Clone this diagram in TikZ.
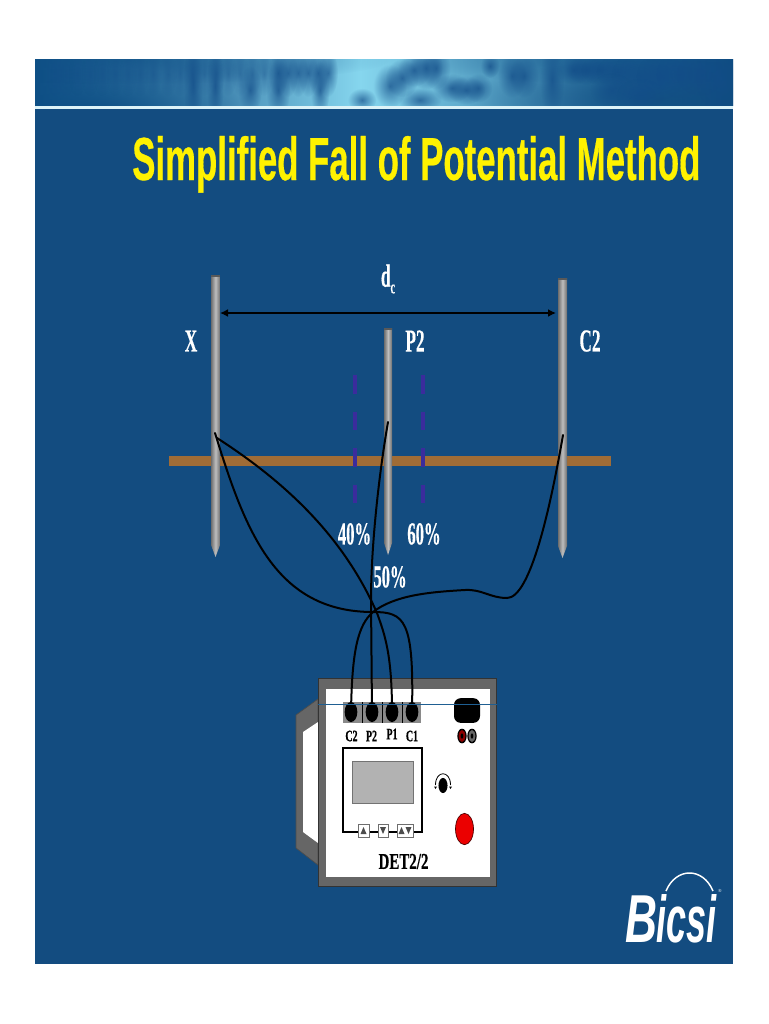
\documentclass[tikz,border=0pt]{standalone}
\usepackage{graphicx}
\usepackage{fontspec}
\setmainfont[BoldFeatures={FakeBold=0.5}]{Liberation Serif}
\newfontfamily\arialf[BoldFeatures={FakeBold=0.5}]{Liberation Sans}
\newfontfamily\logof{Liberation Sans Bold Italic}
\usetikzlibrary{shapes.geometric,arrows.meta,fadings}
\tikzfading[name=softblob,inner color=transparent!0,outer color=transparent!100]
\definecolor{panel}{HTML}{134C80}
\definecolor{bandA}{HTML}{0E4F85}
\definecolor{bandB}{HTML}{4A90B8}
\definecolor{bandH}{HTML}{86D6EE}
\definecolor{bandC}{HTML}{5AA5C8}
\definecolor{bandE}{HTML}{2A6F9E}
\definecolor{bandF}{HTML}{0F4C80}
\definecolor{markc}{HTML}{124C88}
\definecolor{ruleC}{HTML}{DDF3F8}
\definecolor{brownbar}{HTML}{A06C36}
\definecolor{dashc}{HTML}{3B2C9C}
\definecolor{stakeD}{HTML}{6E6E6E}
\definecolor{stakeL}{HTML}{BEBEBE}
\definecolor{devgray}{HTML}{666666}
\definecolor{stripc}{HTML}{8A8A8A}
\definecolor{lcdc}{HTML}{B2B2B2}
\definecolor{thinblue}{HTML}{1F5F92}
\tikzset{
 lbl/.style={inner sep=0pt,text=white,font=\bfseries\fontsize{24}{24}\selectfont},
 devlbl/.style={inner sep=0pt,text=black,font=\bfseries\fontsize{12}{12}\selectfont},
 wire/.style={draw=black,line width=1.5pt,line cap=round},
 term/.style={ellipse,fill=black,inner sep=0pt,minimum width=9.5pt,minimum height=15pt},
 pctdash/.style={draw=dashc,line width=2.3pt,dash pattern=on 14pt off 13.5pt},
 btn/.style={fill=white,draw=stakeD,line width=0.7pt},
 tri/.style={fill=black!70,draw=none},
 markA/.style={fill=markc,opacity=.42,path fading=softblob},
 markB/.style={fill=markc,opacity=.7,path fading=softblob},
}
\newcommand{\squeezed}[2]{\scalebox{#1}[1]{#2}}
\newcommand{\stake}[4]{% left, right, top, tip
  \path[left color=stakeD,right color=stakeD,middle color=stakeL]
    (#1,#3) -- (#2,#3) -- (#2,#4-12) -- ({(#1+#2)/2},#4) -- (#1,#4-12) -- cycle;
  \fill[black!65] (#1,#3) rectangle (#2,#3+2);
}
\begin{document}
\begin{tikzpicture}[x=0.75pt,y=-0.75pt]
\useasboundingbox (0,0) rectangle (768,1024);
\fill[white] (0,0) rectangle (768,1024);
% panel
\fill[panel] (35,109) rectangle (733,964);
% header band
\begin{scope}
\clip (35,60) rectangle (733,105);
\path[left color=bandA,right color=bandB] (35,60) rectangle (230.5,105);
\path[left color=bandB,right color=bandH] (230,60) rectangle (360.5,105);
\path[left color=bandH,right color=bandC] (360,60) rectangle (480.5,105);
\path[left color=bandC,right color=bandE] (480,60) rectangle (600.5,105);
\path[left color=bandE,right color=bandF] (600,60) rectangle (733,105);
\fill[bandA,opacity=.9,path fading=softblob] (90,108) ellipse (170 and 40);
\fill[bandA,opacity=.6,path fading=softblob] (130,60) ellipse (260 and 24);
\fill[bandA,opacity=.6,path fading=softblob] (620,60) ellipse (220 and 24);
\fill[bandF,opacity=.8,path fading=softblob] (660,100) ellipse (200 and 40);
\foreach \mx in {55,66,77,90,102,115,128,140,153,168,180,192,204,216,228,240,252,264}
  \fill[markA] (\mx,74) ellipse (9 and 22);
\foreach \mx in {278,288,298,308,318,328}
  \fill[markB] (\mx,73) ellipse (10 and 24);
\foreach \mx/\my/\ma/\mb in {193/84/4/20,215/86/3.5/18,278/90/5/13,320/90/4/12,250/90/5/10,390/86/7/9,402/78/7/8,414/70/7/7,426/68/7/9,436/68/6/9,452/88/8/6,466/90/8/6,478/88/6/6,490/66/4/5,512/76/6/9,524/76/6/9,552/80/5/16,574/70/7/6,586/70/8/6,600/70/8/6,618/72/9/7,640/76/12/10,660/76/10/10,680/74/10/10,700/74/10/9,612/90/9/7,640/95/10/7,720/78/10/14,420/100/9/5,362/100/6/5}
  \fill[markB] (\mx,\my) ellipse (\ma*2.4 and \mb*2.4);
\end{scope}
\fill[ruleC] (35,105.5) rectangle (733,109);
% title
\node[inner sep=0pt,anchor=base west,text=yellow] (title) at (132,180)
  {\resizebox{426pt}{33pt}{\arialf\bfseries Simplified Fall of Potential Method}};
% ground
\fill[brownbar] (169,456) rectangle (611,466);
% stakes
\stake{211}{220}{275}{557}
\stake{384}{392}{328}{555}
\stake{558}{567}{278}{558}
% percent markers
\coordinate (d40a) at (355,375); \coordinate (d40b) at (355,503);
\coordinate (d60a) at (423,375); \coordinate (d60b) at (423,503);
\draw[pctdash] (d40a) -- (d40b);
\draw[pctdash] (d60a) -- (d60b);
% dc dimension
\coordinate (xface) at (220,313); \coordinate (cface) at (556,313);
\draw[line width=1.5pt,{Latex[length=6pt,width=6pt]}-{Latex[length=6pt,width=6pt]}] (xface) -- (cface);
% labels
\node[lbl] (ldc) at (388,279) {\squeezed{.54}{d\raisebox{-5pt}{\fontsize{14}{14}\selectfont c}}};
\node[lbl] (lX) at (191,341) {\squeezed{.54}{X}};
\node[lbl] (lP) at (415,341) {\squeezed{.54}{P2}};
\node[lbl] (lC) at (590,341) {\squeezed{.54}{C2}};
\node[lbl] (l40) at (354.5,534) {\squeezed{.52}{40\%}};
\node[lbl] (l60) at (424,534) {\squeezed{.52}{60\%}};
\node[lbl] (l50) at (390,577) {\squeezed{.52}{50\%}};
% device handle
\fill[devgray,draw=black!70,line width=.5pt] (318,699) -- (296,715) -- (296,848) -- (318,865) -- cycle;
\fill[white] (318,722) -- (303,732) -- (303,832) -- (318,843) -- cycle;
% device body
\node[draw=black!80,line width=.8pt,fill=devgray,inner sep=0pt,minimum width=133pt,minimum height=156pt] (body) at (407.5,782.5) {};
\node[fill=white,draw=black!60,line width=.5pt,inner sep=0pt,minimum width=124pt,minimum height=141.5pt] (face) at (408,782.5) {};
% terminal strip
\fill[stripc] (343,702) rectangle (421,723);
\foreach \dx in {362,382,402} \draw[black,line width=.7pt] (\dx,702) -- (\dx,723);
\node[term] (tC2) at (351,712) {};
\node[term] (tP2) at (372,712) {};
\node[term] (tP1) at (392,712) {};
\node[term] (tC1) at (412,712) {};
% wires
\coordinate (xa) at (217,438); \coordinate (xb) at (215,433);
\coordinate (pa) at (388,422); \coordinate (ca) at (563,435);
\coordinate (hub) at (373,612); \coordinate (hubw) at (377,613); \coordinate (cdip) at (507,598);
\draw[wire] (xa) .. controls (290,485) and (345,540) .. (hubw) .. controls (385,635) and (392,655) .. (tP1.center);
\draw[wire] (xb) .. controls (245,530) and (275,612) .. (hub) .. controls (405,612) and (414,620) .. (tC1.center);
\draw[wire] (pa) .. controls (378,480) and (371,550) .. (371,600) -- (tP2.center);
\draw[wire] (ca) .. controls (550,510) and (530,598) .. (cdip) .. controls (490,598) and (482,589) .. (465,590) .. controls (430,592) and (395,595) .. (hub) .. controls (358,625) and (352,650) .. (tC2.center);
% display port and jacks
\node[fill=black,rounded corners=5pt,inner sep=0pt,minimum width=19.5pt,minimum height=18.5pt] (port) at (467,710.5) {};
\node[ellipse,fill=black,inner sep=0pt,minimum width=7pt,minimum height=11pt] (jr0) at (462,736) {};
\node[ellipse,fill=black,inner sep=0pt,minimum width=7pt,minimum height=11pt] (jb0) at (472,736) {};
\node[ellipse,fill=red!55!black,inner sep=0pt,minimum width=5pt,minimum height=9pt] (jr) at (462,736) {};
\node[ellipse,fill=black!60,inner sep=0pt,minimum width=5pt,minimum height=9pt] (jb) at (472,736) {};
\node[ellipse,fill=black,inner sep=0pt,minimum width=2pt,minimum height=4pt] (jrc) at (462,736) {};
\node[ellipse,fill=black,inner sep=0pt,minimum width=2pt,minimum height=4pt] (jbc) at (472,736) {};
% thin line across the device
\coordinate (tl) at (318,704.5); \coordinate (tr) at (497,704.5);
\draw[thinblue,line width=.8pt] (tl) -- (tr);
% terminal labels
\node[devlbl] (lc2) at (351.5,736) {\squeezed{.62}{C2}};
\node[devlbl] (lp2) at (371.5,736) {\squeezed{.62}{P2}};
\node[devlbl] (lp1) at (392,734) {\squeezed{.62}{P1}};
\node[devlbl] (lc1) at (412,736) {\squeezed{.62}{C1}};
% meter
\draw[black,line width=1.3pt] (343,832) -- (343,748) -- (422,748) -- (422,832) -- cycle;
\fill[lcdc,draw=black!55,line width=.7pt] (352,761) rectangle (413,803);
\fill[btn] (358,824) rectangle (369,837);
\fill[tri] (360.5,834) -- (366.5,834) -- (363.5,827) -- cycle;
\fill[btn] (378,824) rectangle (388,837);
\fill[tri] (380,827) -- (386,827) -- (383,834) -- cycle;
\fill[btn] (397,824) rectangle (413,837);
\fill[tri] (398.5,834) -- (404.5,834) -- (401.5,827) -- cycle;
\fill[tri] (405.5,827) -- (411.5,827) -- (408.5,834) -- cycle;
% knob
\node[ellipse,fill=black,inner sep=0pt,minimum width=6.8pt,minimum height=11.3pt] (knob) at (443,785.5) {};
\draw[black,line width=.6pt] (435.5,785) .. controls (435.5,770) and (450.5,770) .. (450.5,785);
\fill[black] (434,786.5) -- (437,786.5) -- (435.5,789) -- cycle;
\fill[black] (449,786.5) -- (452,786.5) -- (450.5,789) -- cycle;
% stop button
\node[ellipse,fill=red!92!black,draw=black!70!red,line width=.5pt,inner sep=0pt,minimum width=13.5pt,minimum height=23.5pt] (stopb) at (464.5,829) {};
% model
\node[inner sep=0pt,text=black,font=\bfseries\fontsize{17}{17}\selectfont] (model) at (403.5,861.5) {\squeezed{.66}{DET2/2}};
% logo
\node[inner sep=0pt,anchor=base west,text=white] (logoB) at (625,942)
  {\resizebox{24pt}{35pt}{\logof B}};
\node[inner sep=0pt,anchor=base west,text=white] (logoT) at (656,942)
  {\resizebox{45pt}{36pt}{\logof icsi}};
\coordinate (arcL) at (666,891); \coordinate (arcR) at (713,891);
\draw[white,line width=1.1pt] (arcL) .. controls (676,867) and (703,867) .. (arcR);
\node[inner sep=0pt,text=white,font=\fontsize{3.5}{4}\selectfont] (reg) at (720,891) {®};
\end{tikzpicture}
\end{document}
